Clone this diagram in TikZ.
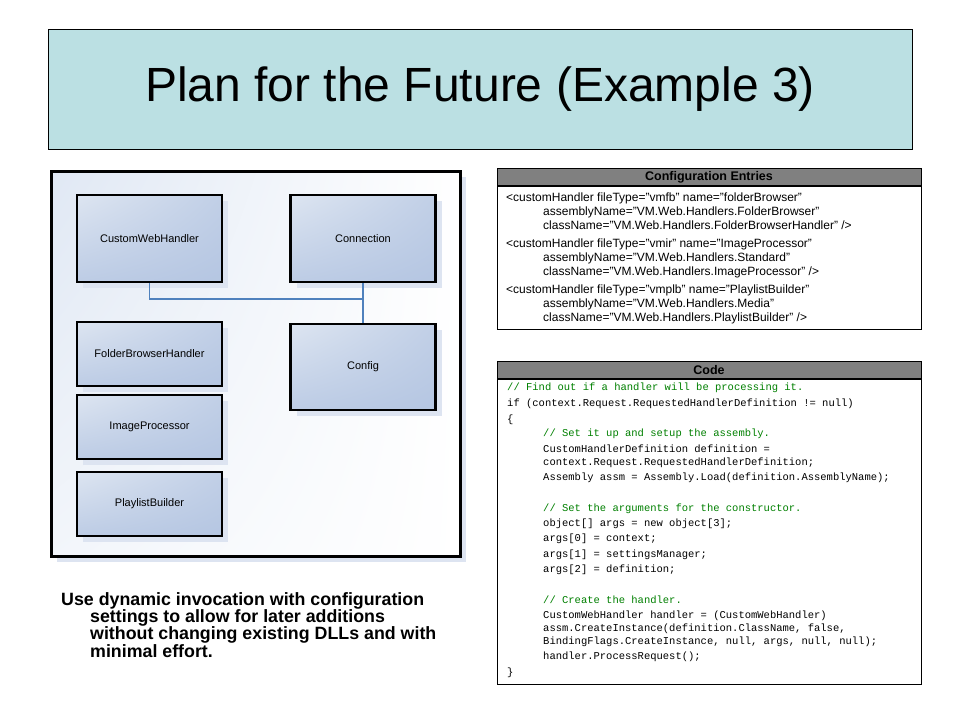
\documentclass[tikz,border=0pt]{standalone}
\usepackage{fontspec}
\setmainfont{Liberation Sans}
\newfontfamily\codefont{Liberation Mono}
\usetikzlibrary{shadows,shadings}

\definecolor{titlecyan}{HTML}{BBE0E3}
\definecolor{boxlight}{HTML}{DDE5F1}
\definecolor{boxblue}{HTML}{B5C6E2}
\definecolor{shadowblue}{HTML}{DDE4F1}
\definecolor{frametint}{HTML}{E0E8F4}
\definecolor{linkblue}{HTML}{4F81BD}
\definecolor{headgray}{HTML}{808080}
\definecolor{commentgreen}{HTML}{008000}

\tikzset{
  classbox/.style={draw=black, line width=2.5pt, minimum width=145pt,
    upper left=boxlight, upper right=boxblue!70!boxlight,
    lower left=boxblue!80!boxlight, lower right=boxblue,
    drop shadow={shadow xshift=6pt, shadow yshift=-6pt, fill=shadowblue, opacity=1},
    font=\fontsize{11}{13}\selectfont},
  link/.style={draw=linkblue, line width=1.5pt},
  panelhead/.style={draw=black, line width=0.8pt, fill=headgray, anchor=north,
    minimum width=424pt, minimum height=17pt, inner sep=0pt,
    font=\fontsize{12.5}{14}\selectfont\bfseries},
  panelbody/.style={draw=black, line width=0.8pt, fill=white, anchor=north,
    minimum width=424pt, inner sep=0pt},
  entry/.style={anchor=base west, inner sep=0pt, font=\fontsize{12}{13}\selectfont},
  code/.style={anchor=base west, inner sep=0pt, font=\fontsize{10.5}{12}\codefont},
  comment/.style={code, text=commentgreen},
  summaryline/.style={anchor=base west, inner sep=0pt,
    font=\fontsize{17.8}{18}\selectfont\bfseries}
}

\begin{document}
\begin{tikzpicture}[x=1pt, y=-1pt]
  \useasboundingbox (0,0) rectangle (960,720);

  % title
  \node[draw=black, line width=0.8pt, fill=titlecyan, minimum width=864pt,
    minimum height=120pt, font=\fontsize{48}{56}\selectfont] (title) at (480,89)
    {Plan for the Future (Example 3)};

  % class diagram
  \node[draw=black, line width=3pt, minimum width=409pt, minimum height=385pt,
    upper left=frametint, upper right=white, lower left=white!60!frametint,
    lower right=white,
    drop shadow={shadow xshift=5pt, shadow yshift=-5pt, fill=shadowblue, opacity=1}]
    (frame) at (256,364) {};
  \node[classbox, minimum height=87pt] (cwh)  at (149.5,238.5) {CustomWebHandler};
  \node[classbox, minimum height=87pt] (conn) at (363,238.5)   {Connection};
  \node[classbox, minimum height=64pt] (fbh)  at (149.5,354)   {FolderBrowserHandler};
  \node[classbox, minimum height=64pt] (imgp) at (149.5,427)   {ImageProcessor};
  \node[classbox, minimum height=64pt] (plb)  at (149.5,504)   {PlaylistBuilder};
  \node[classbox, minimum height=86pt] (cfg)  at (363,367)     {Config};
  \coordinate (junc) at (363,299);
  \draw[link] (cwh.south) |- (junc);
  \draw[link] (conn.south) -- (cfg.north);

  % configuration entries
  \node[panelhead] (cfghead) at (709,168) {Configuration Entries};
  \node[panelbody, minimum height=143pt] (cfgbody) at (cfghead.south) {};
  \node[entry] (e1) at (506,201) {<customHandler fileType="vmfb" name="folderBrowser"};
  \node[entry] (e2) at (543,215) {assemblyName="VM.Web.Handlers.FolderBrowser"};
  \node[entry] (e3) at (543,229) {className="VM.Web.Handlers.FolderBrowserHandler" />};
  \node[entry] (e4) at (506,247) {<customHandler fileType="vmir" name="ImageProcessor"};
  \node[entry] (e5) at (543,261) {assemblyName="VM.Web.Handlers.Standard"};
  \node[entry] (e6) at (543,275) {className="VM.Web.Handlers.ImageProcessor" />};
  \node[entry] (e7) at (506,293) {<customHandler fileType="vmplb" name="PlaylistBuilder"};
  \node[entry] (e8) at (543,307) {assemblyName="VM.Web.Handlers.Media"};
  \node[entry] (e9) at (543,321) {className="VM.Web.Handlers.PlaylistBuilder" />};

  % code
  \node[panelhead] (codehead) at (709,361) {Code};
  \node[panelbody, minimum height=305pt] (codebody) at (codehead.south) {};
  \node[comment] (k1)  at (507,390) {// Find out if a handler will be processing it.};
  \node[code]    (k2)  at (507,406) {if (context.Request.RequestedHandlerDefinition != null)};
  \node[code]    (k3)  at (507,422) {\{};
  \node[comment] (k4)  at (543,436) {// Set it up and setup the assembly.};
  \node[code]    (k5)  at (543,452) {CustomHandlerDefinition definition =};
  \node[code]    (k6)  at (543,465) {context.Request.RequestedHandlerDefinition;};
  \node[code]    (k7)  at (543,480) {Assembly assm = Assembly.Load(definition.AssemblyName);};
  \node[comment] (k8)  at (543,511) {// Set the arguments for the constructor.};
  \node[code]    (k9)  at (543,526) {object[] args = new object[3];};
  \node[code]    (k10) at (543,541) {args[0] = context;};
  \node[code]    (k11) at (543,557) {args[1] = settingsManager;};
  \node[code]    (k12) at (543,572) {args[2] = definition;};
  \node[comment] (k13) at (543,603) {// Create the handler.};
  \node[code]    (k14) at (543,618) {CustomWebHandler handler = (CustomWebHandler)};
  \node[code]    (k15) at (543,631) {assm.CreateInstance(definition.ClassName, false,};
  \node[code]    (k16) at (543,644) {BindingFlags.CreateInstance, null, args, null, null);};
  \node[code]    (k17) at (543,659) {handler.ProcessRequest();};
  \node[code]    (k18) at (507,675) {\}};

  % summary
  \node[summaryline] (sum1) at (61,605)   {Use dynamic invocation with configuration};
  \node[summaryline] (sum2) at (90,622.3) {settings to allow for later additions};
  \node[summaryline] (sum3) at (90,639.6) {without changing existing DLLs and with};
  \node[summaryline] (sum4) at (90,657)   {minimal effort.};
\end{tikzpicture}
\end{document}
